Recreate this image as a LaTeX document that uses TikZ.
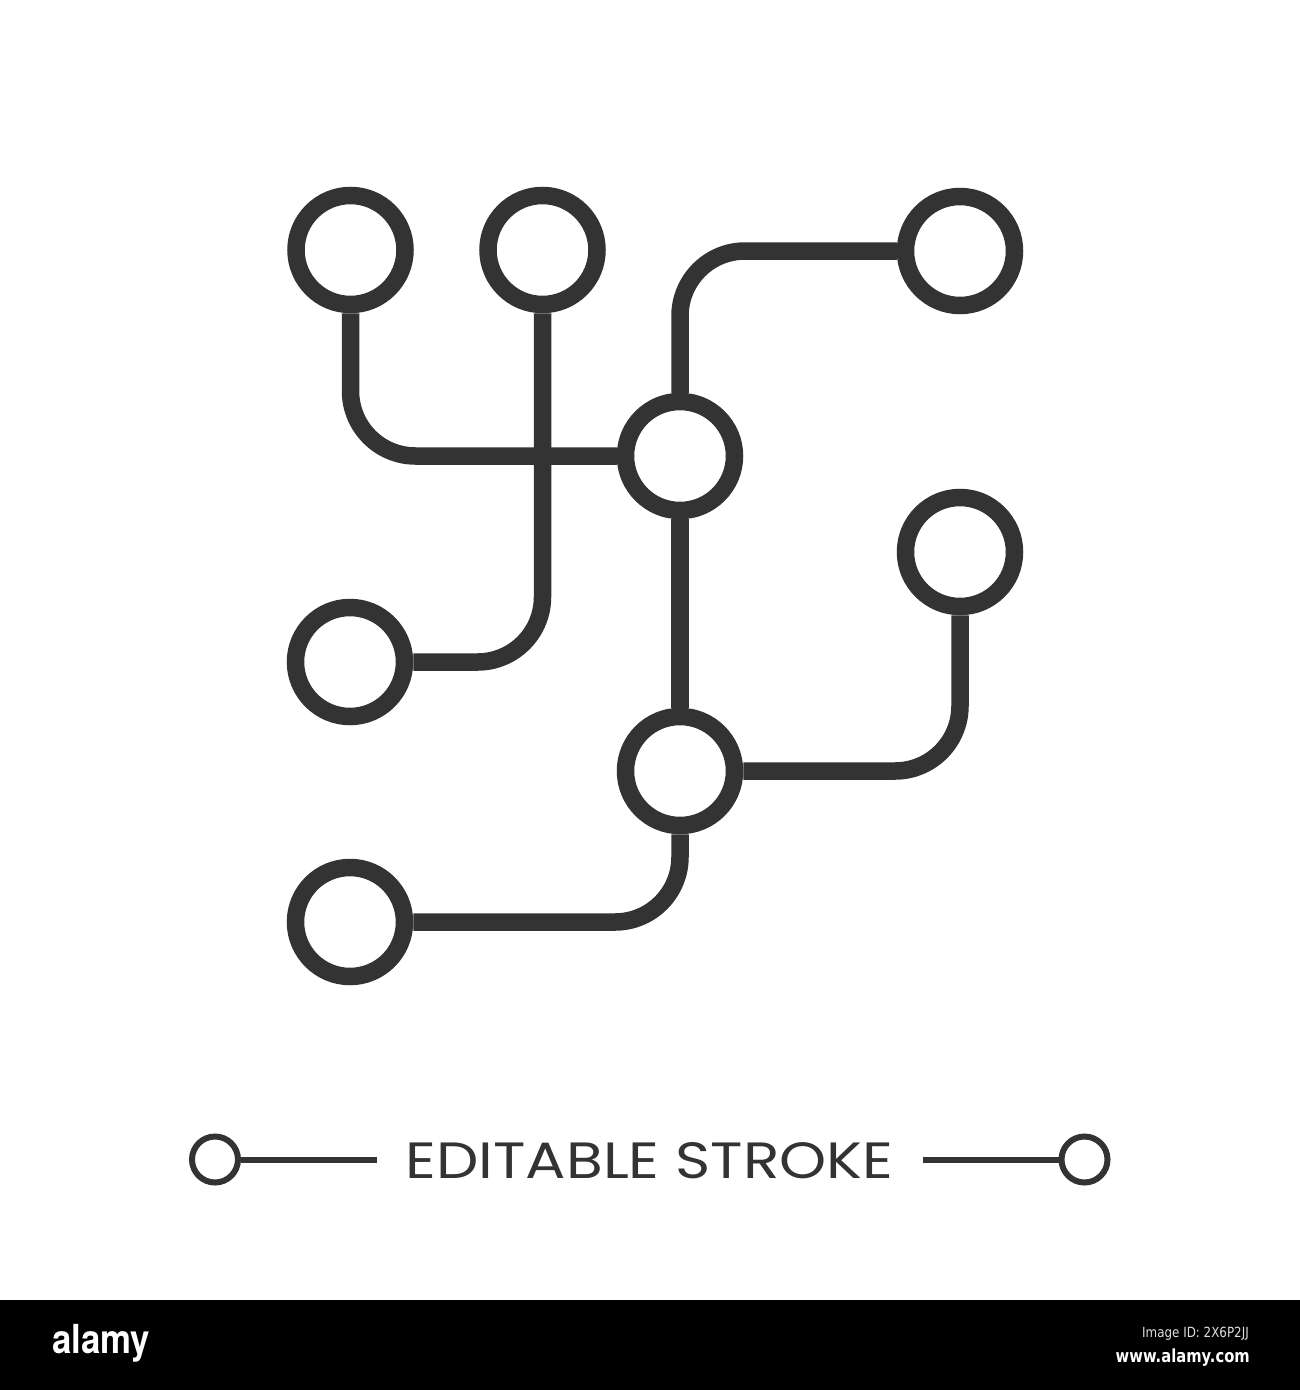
\documentclass[tikz,border=0pt]{standalone}
\usepackage{fontspec}
\setmainfont{Poppins}
\newfontfamily\logofont{TeX Gyre Heros}
\newfontfamily\idfont{DejaVu Sans}
\definecolor{ink}{HTML}{333333}
\begin{document}
\begin{tikzpicture}[x=1pt,y=-1pt,
  bignode/.style={circle,draw=ink,line width=17.5pt,minimum size=109pt,inner sep=0pt},
  link/.style={draw=ink,line width=17.5pt,rounded corners=65pt},
  smallnode/.style={circle,draw=ink,line width=6pt,minimum size=46pt,inner sep=0pt},
  smalllink/.style={draw=ink,line width=6pt}]
\useasboundingbox (0,0) rectangle (1300,1390);
\fill[white] (0,0) rectangle (1300,1300);
% nodes
\node[bignode] (c1) at (350.5,250) {};
\node[bignode] (c2) at (542.5,250) {};
\node[bignode] (ctr) at (960,251) {};
\node[bignode] (hub) at (680,456) {};
\node[bignode] (cml) at (350,662) {};
\node[bignode] (cr) at (960,552) {};
\node[bignode] (low) at (680,771) {};
\node[bignode] (cb) at (350,922) {};
% connectors
\path[link] (c1.south) |- (hub.west);
\path[link] (c2.south) |- (cml.east);
\path[link] (hub.north) |- (ctr.west);
\path[link] (hub.south) -- (low.north);
\path[link] (low.east) -| (cr.south);
\path[link] (low.south) |- (cb.east);
% legend
\node[smallnode] (la) at (215,1159.5) {};
\node[smallnode] (lb) at (1084.5,1159.5) {};
\coordinate (lae) at (377,1159.5);
\coordinate (lbe) at (923,1159.5);
\path[smalllink] (la.east) -- (lae);
\path[smalllink] (lbe) -- (lb.west);
\node[text=ink,inner sep=0pt,anchor=base] (lbl) at (649.5,1178) {\scalebox{1.175}[1]{\fontsize{51}{51}\selectfont EDITABLE STROKE}};
% footer band
\fill[black] (0,1300) rectangle (1300,1390);
\node[text=white,inner sep=0pt,anchor=base west] (logo) at (52,1353) {\scalebox{0.87}[1]{\logofont\bfseries\fontsize{40}{40}\selectfont alamy}};
\node[text=white!88!black,inner sep=0pt,anchor=base east] (imgid) at (1249,1337) {\scalebox{0.85}[1]{\idfont\fontsize{14}{14}\selectfont Image ID: 2X6P2JJ}};
\node[text=white,inner sep=0pt,anchor=base east] (www) at (1250,1362) {\scalebox{0.82}[1]{\idfont\bfseries\fontsize{18}{18}\selectfont www.alamy.com}};
\end{tikzpicture}
\end{document}
